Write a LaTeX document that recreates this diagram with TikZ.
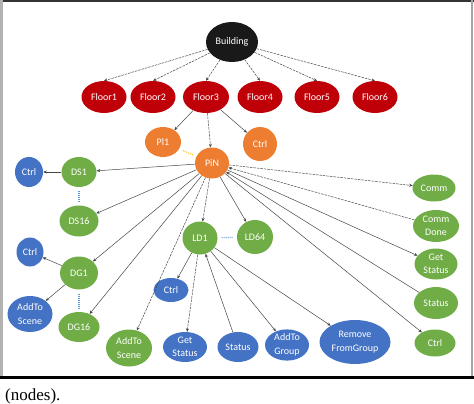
\documentclass[tikz,border=0pt]{standalone}
\usepackage{fontspec}
\setmainfont{Liberation Serif}
\newfontfamily\carlitofam{Carlito}
\usetikzlibrary{shapes.geometric,arrows.meta}
\definecolor{cred}{RGB}{192,0,8}
\definecolor{corg}{RGB}{237,125,49}
\definecolor{cgrn}{RGB}{112,173,71}
\definecolor{cblu}{RGB}{68,114,196}
\definecolor{cblk}{RGB}{25,25,25}
\definecolor{cedge}{RGB}{70,70,70}
\definecolor{cdotb}{RGB}{91,155,213}
\definecolor{cdoty}{RGB}{255,192,0}
\tikzset{
  nd/.style={ellipse, inner sep=0pt, text=white, align=center,
    font=\carlitofam\fontsize{10}{13.5}\selectfont},
  sz/.style 2 args={minimum width=#1pt, minimum height=#2pt},
  rednd/.style={nd, fill=cred},
  orgnd/.style={nd, fill=corg},
  grnnd/.style={nd, fill=cgrn},
  blund/.style={nd, fill=cblu},
  blknd/.style={nd, fill=cblk},
  edge/.style={draw=cedge, line width=0.5pt, -{Stealth[length=3.5pt,width=3pt]}},
  dedge/.style={edge, dash pattern=on 2.5pt off 1pt},
  dots/.style={line width=1.1pt, dash pattern=on 0.9pt off 1.1pt, shorten <=4pt, shorten >=4pt},
}
\begin{document}
\begin{tikzpicture}[x=1pt,y=-1pt]
\useasboundingbox (0,0) rectangle (474,404);
\fill[white] (0,0) rectangle (474,404);
% frame
\fill[black!80] (0,0) rectangle (474,2.5);
\fill[black!30] (0,0) rectangle (2.5,377);
\fill[black!35] (470.5,0) rectangle (473,377);
\fill[black] (0,376) rectangle (474,378.5);
\node[anchor=base west, font=\fontsize{17}{20}\selectfont, inner sep=0pt] (cap) at (5,400.5) {(nodes).};

% nodes
\node[blknd, sz={52}{40}] (B) at (232,42) {Building};
\node[rednd, sz={45}{32}] (F1) at (104,97) {Floor1};
\node[rednd, sz={45}{32}] (F2) at (153,97) {Floor2};
\node[rednd, sz={46}{32}] (F3) at (206,97) {Floor3};
\node[rednd, sz={45}{32}] (F4) at (260,97) {Floor4};
\node[rednd, sz={45}{32}] (F5) at (317,97) {Floor5};
\node[rednd, sz={45}{32}] (F6) at (375,97) {Floor6};

\node[orgnd, sz={36}{30}] (P1) at (163,142) {Pl1};
\node[orgnd, sz={34}{34}] (CO) at (260,144) {Ctrl};
\node[orgnd, sz={34}{31}] (PN) at (212,163) {PiN};

\node[blund, sz={28}{30}] (CA) at (29,172) {Ctrl};
\node[grnnd, sz={35}{30}] (DS1) at (79,172) {DS1};
\node[grnnd, sz={39}{31}] (DS16) at (79,221) {DS16};
\node[blund, sz={27}{29}] (CB) at (30,252) {Ctrl};
\node[grnnd, sz={38}{33}] (DG1) at (79,273) {DG1};
\node[blund, sz={45}{36}] (ASL) at (30,314) {AddTo\\Scene};
\node[grnnd, sz={41}{30}] (DG16) at (79,327) {DG16};
\node[grnnd, sz={46}{37}] (ASG) at (129,348) {AddTo\\Scene};

\node[grnnd, sz={35}{33}] (LD1) at (200,238) {LD1};
\node[grnnd, sz={36}{34}] (LD64) at (255,237) {LD64};
\node[blund, sz={35}{24}] (CC) at (171,290) {Ctrl};
\node[blund, sz={44}{30}] (GSB) at (185,347) {Get\\Status};
\node[blund, sz={41}{30}] (STB) at (238,347) {Status};
\node[blund, sz={44}{30}] (AG) at (287,345) {AddTo\\Group};
\node[blund, sz={71}{44}] (RG) at (355,342) {Remove\\FromGroup};

\node[grnnd, sz={43}{27}] (CM) at (434,188) {Comm};
\node[grnnd, sz={46}{32}] (CD) at (436,226) {Comm\\Done};
\node[grnnd, sz={43}{31}] (GSG) at (436,264) {Get\\Status};
\node[grnnd, sz={44}{32}] (STG) at (436,303) {Status};
\node[grnnd, sz={41}{27}] (CG) at (435,343) {Ctrl};

% edges
\foreach \f in {F1,F2,F3,F4,F5,F6} \draw[dedge] (B) -- (\f.north);
\draw[edge] (F3) -- (P1);
\draw[dedge] (F3) -- (PN);
\draw[edge] (F3) -- (CO);

\draw[edge] (PN) -- (DS1);
\draw[edge] (DS1) -- (CA);
\draw[edge] (PN) -- (DS16);
\draw[edge] (PN) -- (DG1);
\draw[edge] (DG1) -- (CB);
\draw[edge] (DG1) -- (ASL);
\draw[edge] (PN) -- (DG16);
\draw[dedge] (PN) -- (ASG);
\draw[dedge] (PN) -- (LD1);
\draw[edge] (PN) -- (LD64);

\draw[edge] (LD1) -- (CC);
\draw[dedge] (LD1) -- (GSB);
\draw[edge] (STB) -- (LD1);
\draw[edge] (LD1) -- (AG);
\draw[edge] (LD1) -- (RG);

\draw[dedge] (PN) -- (CM);
\draw[dedge] (CD) -- (PN);
\draw[edge] (PN) -- (GSG);
\draw[edge] (STG) -- (PN);
\draw[edge] (PN) -- (CG);

% dotted links
\draw[dots, cdoty] (P1) -- (PN);
\draw[dots, cdotb] (DS1) -- (DS16);
\draw[dots, cdotb] (DG1) -- (DG16);
\draw[dots, cdotb] (LD1) -- (LD64);
\end{tikzpicture}
\end{document}
